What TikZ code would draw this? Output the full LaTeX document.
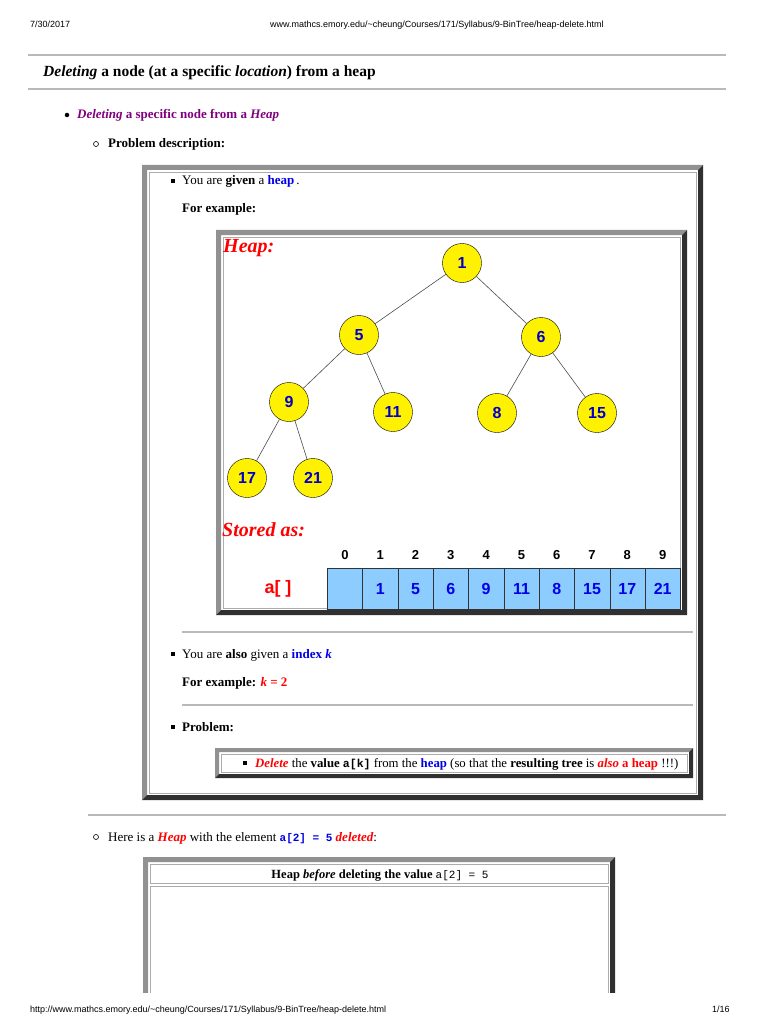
\documentclass[tikz,border=0pt]{standalone}
\usepackage{fontspec}
\setmainfont{Liberation Serif}
\setsansfont{Liberation Sans}
\setmonofont{Liberation Mono}
\usepackage{xcolor}
\usepackage{tikz}
\usetikzlibrary{positioning}
\definecolor{htmlpurple}{RGB}{128,0,128}
\definecolor{htmlblue}{RGB}{0,0,230}
\definecolor{htmlred}{RGB}{255,0,0}
\definecolor{nodeblue}{RGB}{0,0,200}
\definecolor{cellblue}{RGB}{140,204,255}
\definecolor{bevellight}{RGB}{145,145,145}
\definecolor{beveldark}{RGB}{48,48,48}
\tikzset{
  txt/.style={anchor=base west, inner sep=0pt, font=\fontsize{13}{15}\selectfont},
  hdr/.style={anchor=base west, inner sep=0pt, font=\sffamily\fontsize{9}{11}\selectfont},
  biglabel/.style={anchor=base west, inner sep=0pt, text=htmlred,
                   font=\fontsize{20}{22}\selectfont\bfseries\itshape},
  heapnode/.style={circle, draw=black, fill=yellow, minimum size=39pt, inner sep=0pt,
                   font=\sffamily\bfseries\fontsize{16}{16}\selectfont, text=nodeblue},
  treeedge/.style={draw=black!70, line width=0.6pt},
  cell/.style={draw=black!80, fill=cellblue, minimum width=35.3pt, minimum height=41pt,
               inner sep=0pt, font=\sffamily\bfseries\fontsize{16}{16}\selectfont, text=htmlblue},
  idxlabel/.style={inner sep=0pt, font=\sffamily\bfseries\fontsize{13}{13}\selectfont},
  hrule/.style={draw=gray!55, line width=1.2pt},
  cellline/.style={draw=gray!65, line width=0.8pt},
  sqbullet/.style={fill=black, minimum size=4pt, inner sep=0pt},
  ringbullet/.style={circle, draw=black, line width=0.6pt, minimum size=5pt, inner sep=0pt},
  dotbullet/.style={circle, fill=black, minimum size=4.5pt, inner sep=0pt}
}
\begin{document}
\begin{tikzpicture}[x=1pt, y=-1pt]
\useasboundingbox[fill=white] (0,0) rectangle (768,1024);

% Page header and footer
\node[hdr] (date) at (30,28) {7/30/2017};
\node[hdr] (url) at (270,28) {www.mathcs.emory.edu/\textasciitilde cheung/Courses/171/Syllabus/9-BinTree/heap-delete.html};
\node[hdr] (footurl) at (30,1012) {http://www.mathcs.emory.edu/\textasciitilde cheung/Courses/171/Syllabus/9-BinTree/heap-delete.html};
\node[hdr] (page) at (712,1012) {1/16};

% Title
\draw[hrule] (28,55) -- (726,55);
\node[txt, font=\fontsize{15.5}{17}\selectfont\bfseries] (title) at (43,77)
  {\textit{Deleting} a node (at a specific \textit{location}) from a heap};
\draw[hrule] (28,89) -- (726,89);

% Top level items
\node[dotbullet] (b0) at (67,115) {};
\node[txt, text=htmlpurple, font=\fontsize{13}{15}\selectfont\bfseries] (topic) at (77,119)
  {\textit{Deleting} a specific node from a \textit{Heap}};
\node[ringbullet] (b1) at (96,144) {};
\node[txt, font=\fontsize{13}{15}\selectfont\bfseries] (desc) at (108,148) {Problem description:};

% Bevelled frames
\foreach \xa/\ya/\xb/\yb/\w in {142/165/703/800/5, 216/230/687/615/5, 215/748/693/778/4}{
  \fill[bevellight] (\xa,\ya) -- (\xb,\ya) -- (\xb-\w,\ya+\w) -- (\xa+\w,\ya+\w)
    -- (\xa+\w,\yb-\w) -- (\xa,\yb) -- cycle;
  \fill[beveldark] (\xb,\ya) -- (\xb,\yb) -- (\xa,\yb) -- (\xa+\w,\yb-\w)
    -- (\xb-\w,\yb-\w) -- (\xb-\w,\ya+\w) -- cycle;
  \draw[cellline] (\xa+\w+2,\ya+\w+2) rectangle (\xb-\w-2,\yb-\w-2);
}

% Given heap
\node[sqbullet] (b2) at (173,181) {};
\node[txt] (given) at (182,185) {You are \textbf{given} a \textcolor{htmlblue}{\textbf{heap}}\,.};
\node[txt] (ex1) at (182,213) {\textbf{For example:}};
\node[biglabel] (heaplbl) at (223,252) {Heap:};

\node[heapnode] (v1)  at (462,263) {1};
\node[heapnode] (v5)  at (359,335) {5};
\node[heapnode] (v6)  at (541,337) {6};
\node[heapnode] (v9)  at (289,402) {9};
\node[heapnode] (v11) at (393,412) {11};
\node[heapnode] (v8)  at (497,413) {8};
\node[heapnode] (v15) at (597,413) {15};
\node[heapnode] (v17) at (247,478) {17};
\node[heapnode] (v21) at (313,478) {21};

\draw[treeedge] (v1) -- (v5);
\draw[treeedge] (v1) -- (v6);
\draw[treeedge] (v5) -- (v9);
\draw[treeedge] (v5) -- (v11);
\draw[treeedge] (v6) -- (v8);
\draw[treeedge] (v6) -- (v15);
\draw[treeedge] (v9) -- (v17);
\draw[treeedge] (v9) -- (v21);

% Array storage
\node[biglabel] (storedlbl) at (222,536) {Stored as:};
\node[font=\sffamily\bfseries\fontsize{18}{18}\selectfont, text=htmlred] (arr) at (278,589) {a[ ]};
\foreach \i/\v in {0/{},1/1,2/5,3/6,4/9,5/11,6/8,7/15,8/17,9/21}{
  \node[cell] (cell\i) at (327.3+35.3*\i+17.65,588.8) {\v};
  \node[idxlabel, above=8.5pt of cell\i] (idx\i) {\i};
}

% Index k
\draw[hrule] (182,632) -- (693,632);
\node[sqbullet] (b3) at (173,654) {};
\node[txt] (also) at (182,658) {You are \textbf{also} given a \textcolor{htmlblue}{\textbf{index \textit{k}}}};
\node[txt] (ex2) at (182,686) {\textbf{For example:} \textcolor{htmlred}{\textbf{\textit{k} = 2}}};
\draw[hrule] (182,705) -- (693,705);

% Problem
\node[sqbullet] (b4) at (173,727) {};
\node[txt] (prob) at (182,731) {\textbf{Problem:}};
\node[sqbullet, minimum size=3.5pt] (b5) at (245,763) {};
\node[txt, font=\fontsize{12.8}{15}\selectfont] (task) at (255,767)
  {\textcolor{htmlred}{\textbf{\textit{Delete}}} the \textbf{value} {\fontsize{11.5}{13}\selectfont\texttt{\textbf{a[k]}}} from the
   \textcolor{htmlblue}{\textbf{heap}} (so that the \textbf{resulting tree} is
   \textcolor{htmlred}{\textbf{\textit{also} a heap}} !!!)};

% Deleted example
\draw[hrule] (88,815) -- (726,815);
\node[ringbullet] (b6) at (96,837) {};
\node[txt] (here) at (108,841) {Here is a \textcolor{htmlred}{\textbf{\textit{Heap}}} with the element
  \textcolor{htmlblue}{\fontsize{11}{12}\selectfont\texttt{\textbf{a[2] = 5}}} \textcolor{htmlred}{\textbf{\textit{deleted}}}:};

\begin{scope}
\clip (0,0) rectangle (768,992);
\fill[bevellight] (143,857) -- (615,857) -- (610,862) -- (148,862) -- (148,1100) -- (143,1100) -- cycle;
\fill[beveldark] (615,857) -- (615,1100) -- (610,1100) -- (610,862) -- cycle;
\draw[cellline] (150,864) rectangle (608,883);
\draw[cellline] (150,886) rectangle (608,1100);
\end{scope}
\node[txt, anchor=base, font=\fontsize{12.5}{14}\selectfont] (before) at (380,878)
  {\textbf{Heap \textit{before} deleting the value} {\fontsize{11}{12}\selectfont\texttt{a[2] = 5}}};

\end{tikzpicture}
\end{document}
